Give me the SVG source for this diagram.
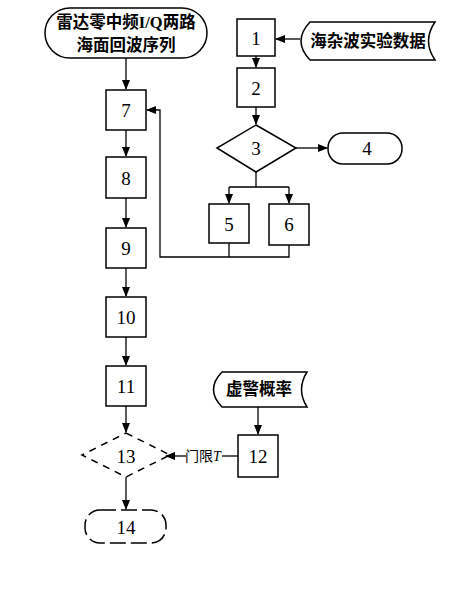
<svg xmlns="http://www.w3.org/2000/svg" width="474" height="607" viewBox="0 0 474 607">
<style>
.s{fill:#fff;stroke:#000;stroke-width:1.5}
.d{fill:none;stroke:#000;stroke-width:1.5;stroke-dasharray:7 6}
.c{fill:none;stroke:#000;stroke-width:1.3}
.n{font-family:"Liberation Serif","Times New Roman",serif;font-size:19px;text-anchor:middle;dominant-baseline:central;fill:#000}
.z{font-family:"Liberation Serif","Noto Sans CJK SC",serif;font-size:16.5px;font-weight:bold;text-anchor:middle;dominant-baseline:central;fill:#000}
.t{font-family:"Liberation Serif","Noto Sans CJK SC",serif;font-size:14px;text-anchor:middle;dominant-baseline:central;fill:#000}
</style>
<defs>
<marker id="a" markerWidth="10" markerHeight="10" refX="9" refY="5" orient="auto" markerUnits="userSpaceOnUse">
<path d="M0,1 L10,5 L0,9 Z" fill="#000"/>
</marker>
</defs>
<g id="connectors">
<path class="c" d="M126,58 V89" marker-end="url(#a)"/>
<path class="c" d="M300,39 H276" marker-end="url(#a)"/>
<path class="c" d="M256,56 V67" marker-end="url(#a)"/>
<path class="c" d="M256,107 V124" marker-end="url(#a)"/>
<path class="c" d="M296,148 H327" marker-end="url(#a)"/>
<path class="c" d="M256,172 V187 M229,187 H289"/>
<path class="c" d="M229,187 V203" marker-end="url(#a)"/>
<path class="c" d="M289,187 V203" marker-end="url(#a)"/>
<path class="c" d="M229,243 V257 M289,245 V257 H160 V110 H147" marker-end="url(#a)"/>
<path class="c" d="M126,130 V156" marker-end="url(#a)"/>
<path class="c" d="M126,198 V227" marker-end="url(#a)"/>
<path class="c" d="M126,268 V296" marker-end="url(#a)"/>
<path class="c" d="M126,337 V365" marker-end="url(#a)"/>
<path class="c" d="M126,406 V432" marker-end="url(#a)"/>
<path class="c" d="M258,407 V434" marker-end="url(#a)"/>
<path class="c" d="M238,456 H222"/>
<path class="c" d="M186,456 H166" marker-end="url(#a)"/>
<text class="t" x="203" y="456">门限<tspan font-style="italic">T</tspan></text>
<path class="c" d="M126,477 V509" marker-end="url(#a)"/>
</g>
<g id="n0"><rect class="s" x="45" y="8" width="162" height="50" rx="25"/><text class="z" x="126" y="22">雷达零中频I/Q两路</text><text class="z" x="126" y="45">海面回波序列</text></g>
<g id="data1"><path class="s" d="M310,22 L435,22 Q422,41 435,60 L310,60 Q292,41 310,22 Z"/><text class="z" x="368" y="41">海杂波实验数据</text></g>
<g id="n1"><rect class="s" x="237" y="19" width="38" height="37"/><text class="n" x="256" y="38">1</text></g>
<g id="n2"><rect class="s" x="237" y="68" width="38" height="39"/><text class="n" x="256" y="88">2</text></g>
<g id="n3"><path class="s" d="M256,125 L296,148 L256,172 L217,148 Z"/><text class="n" x="256" y="148">3</text></g>
<g id="n4"><rect class="s" x="328" y="133" width="74" height="31" rx="15"/><text class="n" x="367" y="148">4</text></g>
<g id="n5"><rect class="s" x="209" y="204" width="40" height="39"/><text class="n" x="229" y="224">5</text></g>
<g id="n6"><rect class="s" x="269" y="204" width="40" height="41"/><text class="n" x="289" y="224">6</text></g>
<g id="n7"><rect class="s" x="106" y="90" width="40" height="40"/><text class="n" x="126" y="110">7</text></g>
<g id="n8"><rect class="s" x="106" y="157" width="40" height="41"/><text class="n" x="126" y="178">8</text></g>
<g id="n9"><rect class="s" x="106" y="228" width="40" height="40"/><text class="n" x="126" y="248">9</text></g>
<g id="n10"><rect class="s" x="106" y="297" width="40" height="40"/><text class="n" x="126" y="317">10</text></g>
<g id="n11"><rect class="s" x="106" y="366" width="40" height="40"/><text class="n" x="126" y="386">11</text></g>
<g id="data2"><path class="s" d="M222,372 L307,372 Q296,389.5 307,407 L222,407 Q205,389.5 222,372 Z"/><text class="z" x="259" y="389">虚警概率</text></g>
<g id="n12"><rect class="s" x="238" y="435" width="40" height="42"/><text class="n" x="258" y="456">12</text></g>
<g id="n13"><path class="d" d="M126,433 L170,455 L126,477 L82,455 Z"/><text class="n" x="126" y="456">13</text></g>
<g id="n14"><rect class="d" x="85" y="510" width="81" height="33" rx="15" style="stroke-dasharray:16 5"/><text class="n" x="126" y="527">14</text></g>
</svg>
